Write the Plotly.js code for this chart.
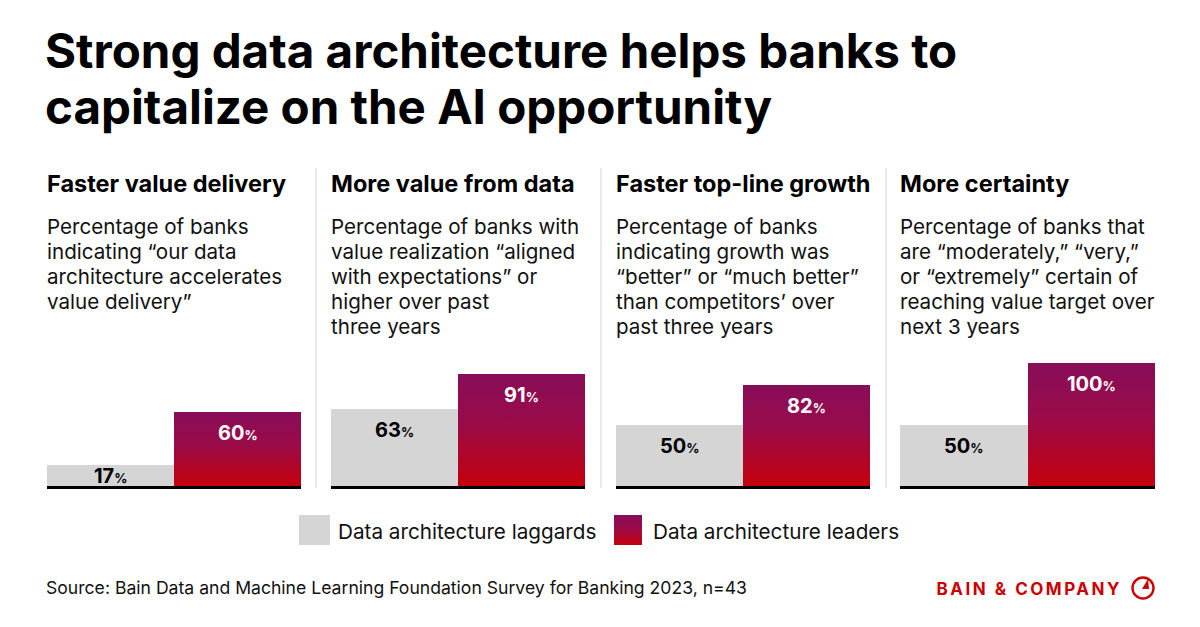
<!DOCTYPE html>
<html>
<head>
<meta charset="utf-8">
<script src="https://cdn.plot.ly/plotly-3.0.1.min.js"></script>
<style>html,body{margin:0;padding:0;background:#fff;}#chart{width:1200px;height:627px;}</style>
</head>
<body>
<div id="chart"></div>
<script>
// ---- data ----
const chartTitle = ['Strong data architecture helps banks to', 'capitalize on the AI opportunity'];
const panelTitles = ['Faster value delivery', 'More value from data', 'Faster top-line growth', 'More certainty'];
const panelDescriptions = [
  'Percentage of banks<br>indicating “our data<br>architecture accelerates<br>value delivery”',
  'Percentage of banks with<br>value realization “aligned<br>with expectations” or<br>higher over past<br>three years',
  'Percentage of banks<br>indicating growth was<br>“better” or “much better”<br>than competitors’ over<br>past three years',
  'Percentage of banks that<br>are “moderately,” “very,”<br>or “extremely” certain of<br>reaching value target over<br>next 3 years'
];
const groups = ['Data architecture laggards', 'Data architecture leaders'];
const laggards = [17, 63, 50, 50];
const leaders = [60, 91, 82, 100];
const sourceText = 'Source: Bain Data and Machine Learning Foundation Survey for Banking 2023, n=43';
const brandText = 'BAIN & COMPANY';

// ---- styling ----
const W = 1200, H = 627;
const px = x => x / W;
const py = y => 1 - y / H;
const GRAY = '#d5d5d5';
const GRAD_KEY = 'rgb(161, 9, 51)'; // placeholder replaced by gradient
const RED = '#cc0000';
const FONT = 'Inter, "Noto Sans", sans-serif';
const panelX = [[47, 301], [331, 585], [616, 870], [900, 1155]];
const baseY = 486, topY = 363; // pixel of 0% and 100%
const sepX = [316, 601, 886];

const data = [];
const layout = {
  width: W, height: H,
  margin: {l: 0, r: 0, t: 0, b: 0},
  paper_bgcolor: '#fff', plot_bgcolor: 'rgba(0,0,0,0)',
  showlegend: false,
  bargap: 0,
  annotations: [], shapes: [],
  font: {family: FONT, color: '#000'}
};

panelTitles.forEach((t, i) => {
  const n = i + 1;
  const xa = 'x' + (n === 1 ? '' : n), ya = 'y' + (n === 1 ? '' : n);
  data.push({
    type: 'bar', x: groups, y: [laggards[i], leaders[i]],
    xaxis: xa, yaxis: ya,
    marker: {color: [GRAY, GRAD_KEY], line: {width: 0}},
    hoverinfo: 'skip'
  });
  layout['xaxis' + (n === 1 ? '' : n)] = {
    domain: [px(panelX[i][0]), px(panelX[i][1])], anchor: ya,
    range: [-0.5, 1.5], showticklabels: false, ticks: '', showgrid: false, zeroline: false,
    showline: true, linecolor: '#000', linewidth: 3, fixedrange: true
  };
  layout['yaxis' + (n === 1 ? '' : n)] = {
    domain: [py(baseY), py(topY)], anchor: xa,
    range: [0, 100], showticklabels: false, ticks: '', showgrid: false, zeroline: false,
    showline: false, fixedrange: true
  };
  // value labels
  [laggards[i], leaders[i]].forEach((v, j) => {
    const small = v * (baseY - topY) / 100 < 42;
    layout.annotations.push({
      xref: xa, yref: ya, x: groups[j], y: small ? v / 2 : v,
      yshift: small ? 0 : -21, yanchor: 'middle', xanchor: 'center', showarrow: false,
      text: '<b>' + v + '</b><span style="font-size:13px">%</span>',
      font: {family: FONT, size: 20, color: j === 0 ? '#000' : '#fff', weight: 700}
    });
  });
  // panel title
  layout.annotations.push({
    xref: 'paper', yref: 'paper', x: px(panelX[i][0] - 2), y: py(183),
    xanchor: 'left', yanchor: 'middle', align: 'left', showarrow: false,
    text: '<b>' + t + '</b>', font: {family: FONT, size: 23.5, color: '#000'}
  });
  // description, one annotation per line
  panelDescriptions[i].split('<br>').forEach((line, k) => {
    layout.annotations.push({
      xref: 'paper', yref: 'paper', x: px(panelX[i][0] - 2), y: py(226 + 25 * k),
      xanchor: 'left', yanchor: 'middle', align: 'left', showarrow: false,
      text: line, font: {family: FONT, size: 20.6, color: '#111'}
    });
  });
});

// separators
sepX.forEach(x => layout.shapes.push({
  type: 'line', xref: 'paper', yref: 'paper', x0: px(x), x1: px(x), y0: py(168), y1: py(488),
  line: {color: '#e2e2e2', width: 1.5}
}));

// main title
chartTitle.forEach((t, k) => layout.annotations.push({
  xref: 'paper', yref: 'paper', x: px(43), y: py(50 + k * 57),
  xanchor: 'left', yanchor: 'middle', showarrow: false,
  text: '<b>' + t + '</b>', font: {family: FONT, size: 47.5, color: '#000'}
}));

// legend
const legendItems = [[299, 330, 336], [614, 642, 651]];
groups.forEach((g, k) => {
  const [x0, x1, tx] = legendItems[k];
  layout.shapes.push({
    type: 'rect', xref: 'paper', yref: 'paper', x0: px(x0), x1: px(x1), y0: py(545), y1: py(515),
    fillcolor: k === 0 ? GRAY : GRAD_KEY, line: {width: 0}
  });
  layout.annotations.push({
    xref: 'paper', yref: 'paper', x: px(tx), y: py(531),
    xanchor: 'left', yanchor: 'middle', showarrow: false,
    text: g, font: {family: FONT, size: 20.7, color: '#111'}
  });
});

// source
layout.annotations.push({
  xref: 'paper', yref: 'paper', x: px(44), y: py(587),
  xanchor: 'left', yanchor: 'middle', showarrow: false,
  text: sourceText, font: {family: FONT, size: 17.6, color: '#111'}
});

// brand
layout.annotations.push({
  xref: 'paper', yref: 'paper', x: px(952), y: py(589),
  xanchor: 'left', yanchor: 'middle', showarrow: false,
  text: '<b>' + brandText + '</b>', font: {family: FONT, size: 17, color: RED}
});
// brand icon
const cx = 1143, cy = 588, r = 10.5;
layout.shapes.push({
  type: 'circle', xref: 'paper', yref: 'paper',
  x0: px(cx - r), x1: px(cx + r), y0: py(cy + r), y1: py(cy - r),
  line: {color: RED, width: 2.4}, fillcolor: 'rgba(0,0,0,0)'
});
layout.shapes.push({
  type: 'path', xref: 'paper', yref: 'paper',
  path: `M ${px(cx - 1)} ${py(cy + 1)} L ${px(cx + 5)} ${py(cy - 9)} L ${px(cx + 6)} ${py(cy + 1)} Z`,
  fillcolor: RED, line: {width: 0}
});

Plotly.newPlot('chart', data, layout, {displayModeBar: false, staticPlot: true}).then(gd => {
  const svg = gd.querySelector('svg.main-svg');
  const NS = 'http://www.w3.org/2000/svg';
  let defs = svg.querySelector('defs');
  if (!defs) { defs = document.createElementNS(NS, 'defs'); svg.insertBefore(defs, svg.firstChild); }
  const lg = document.createElementNS(NS, 'linearGradient');
  lg.setAttribute('id', 'leaderGrad');
  lg.setAttribute('x1', '0'); lg.setAttribute('y1', '0'); lg.setAttribute('x2', '0'); lg.setAttribute('y2', '1');
  [['0', '#880d59'], ['0.45', '#9b0b48'], ['1', '#c4000c']].forEach(([o, c]) => {
    const s = document.createElementNS(NS, 'stop');
    s.setAttribute('offset', o); s.setAttribute('stop-color', c);
    lg.appendChild(s);
  });
  defs.appendChild(lg);
  gd.querySelectorAll('path').forEach(p => {
    if (p.style.fill && p.style.fill.replace(/\s/g, '') === GRAD_KEY.replace(/\s/g, '')) {
      p.style.fill = 'url(#leaderGrad)';
    }
  });
  gd.querySelectorAll('.annotation-text').forEach(t => {
    if (t.textContent === brandText) t.style.letterSpacing = '2.5px';
  });
});
</script>
</body>
</html>
